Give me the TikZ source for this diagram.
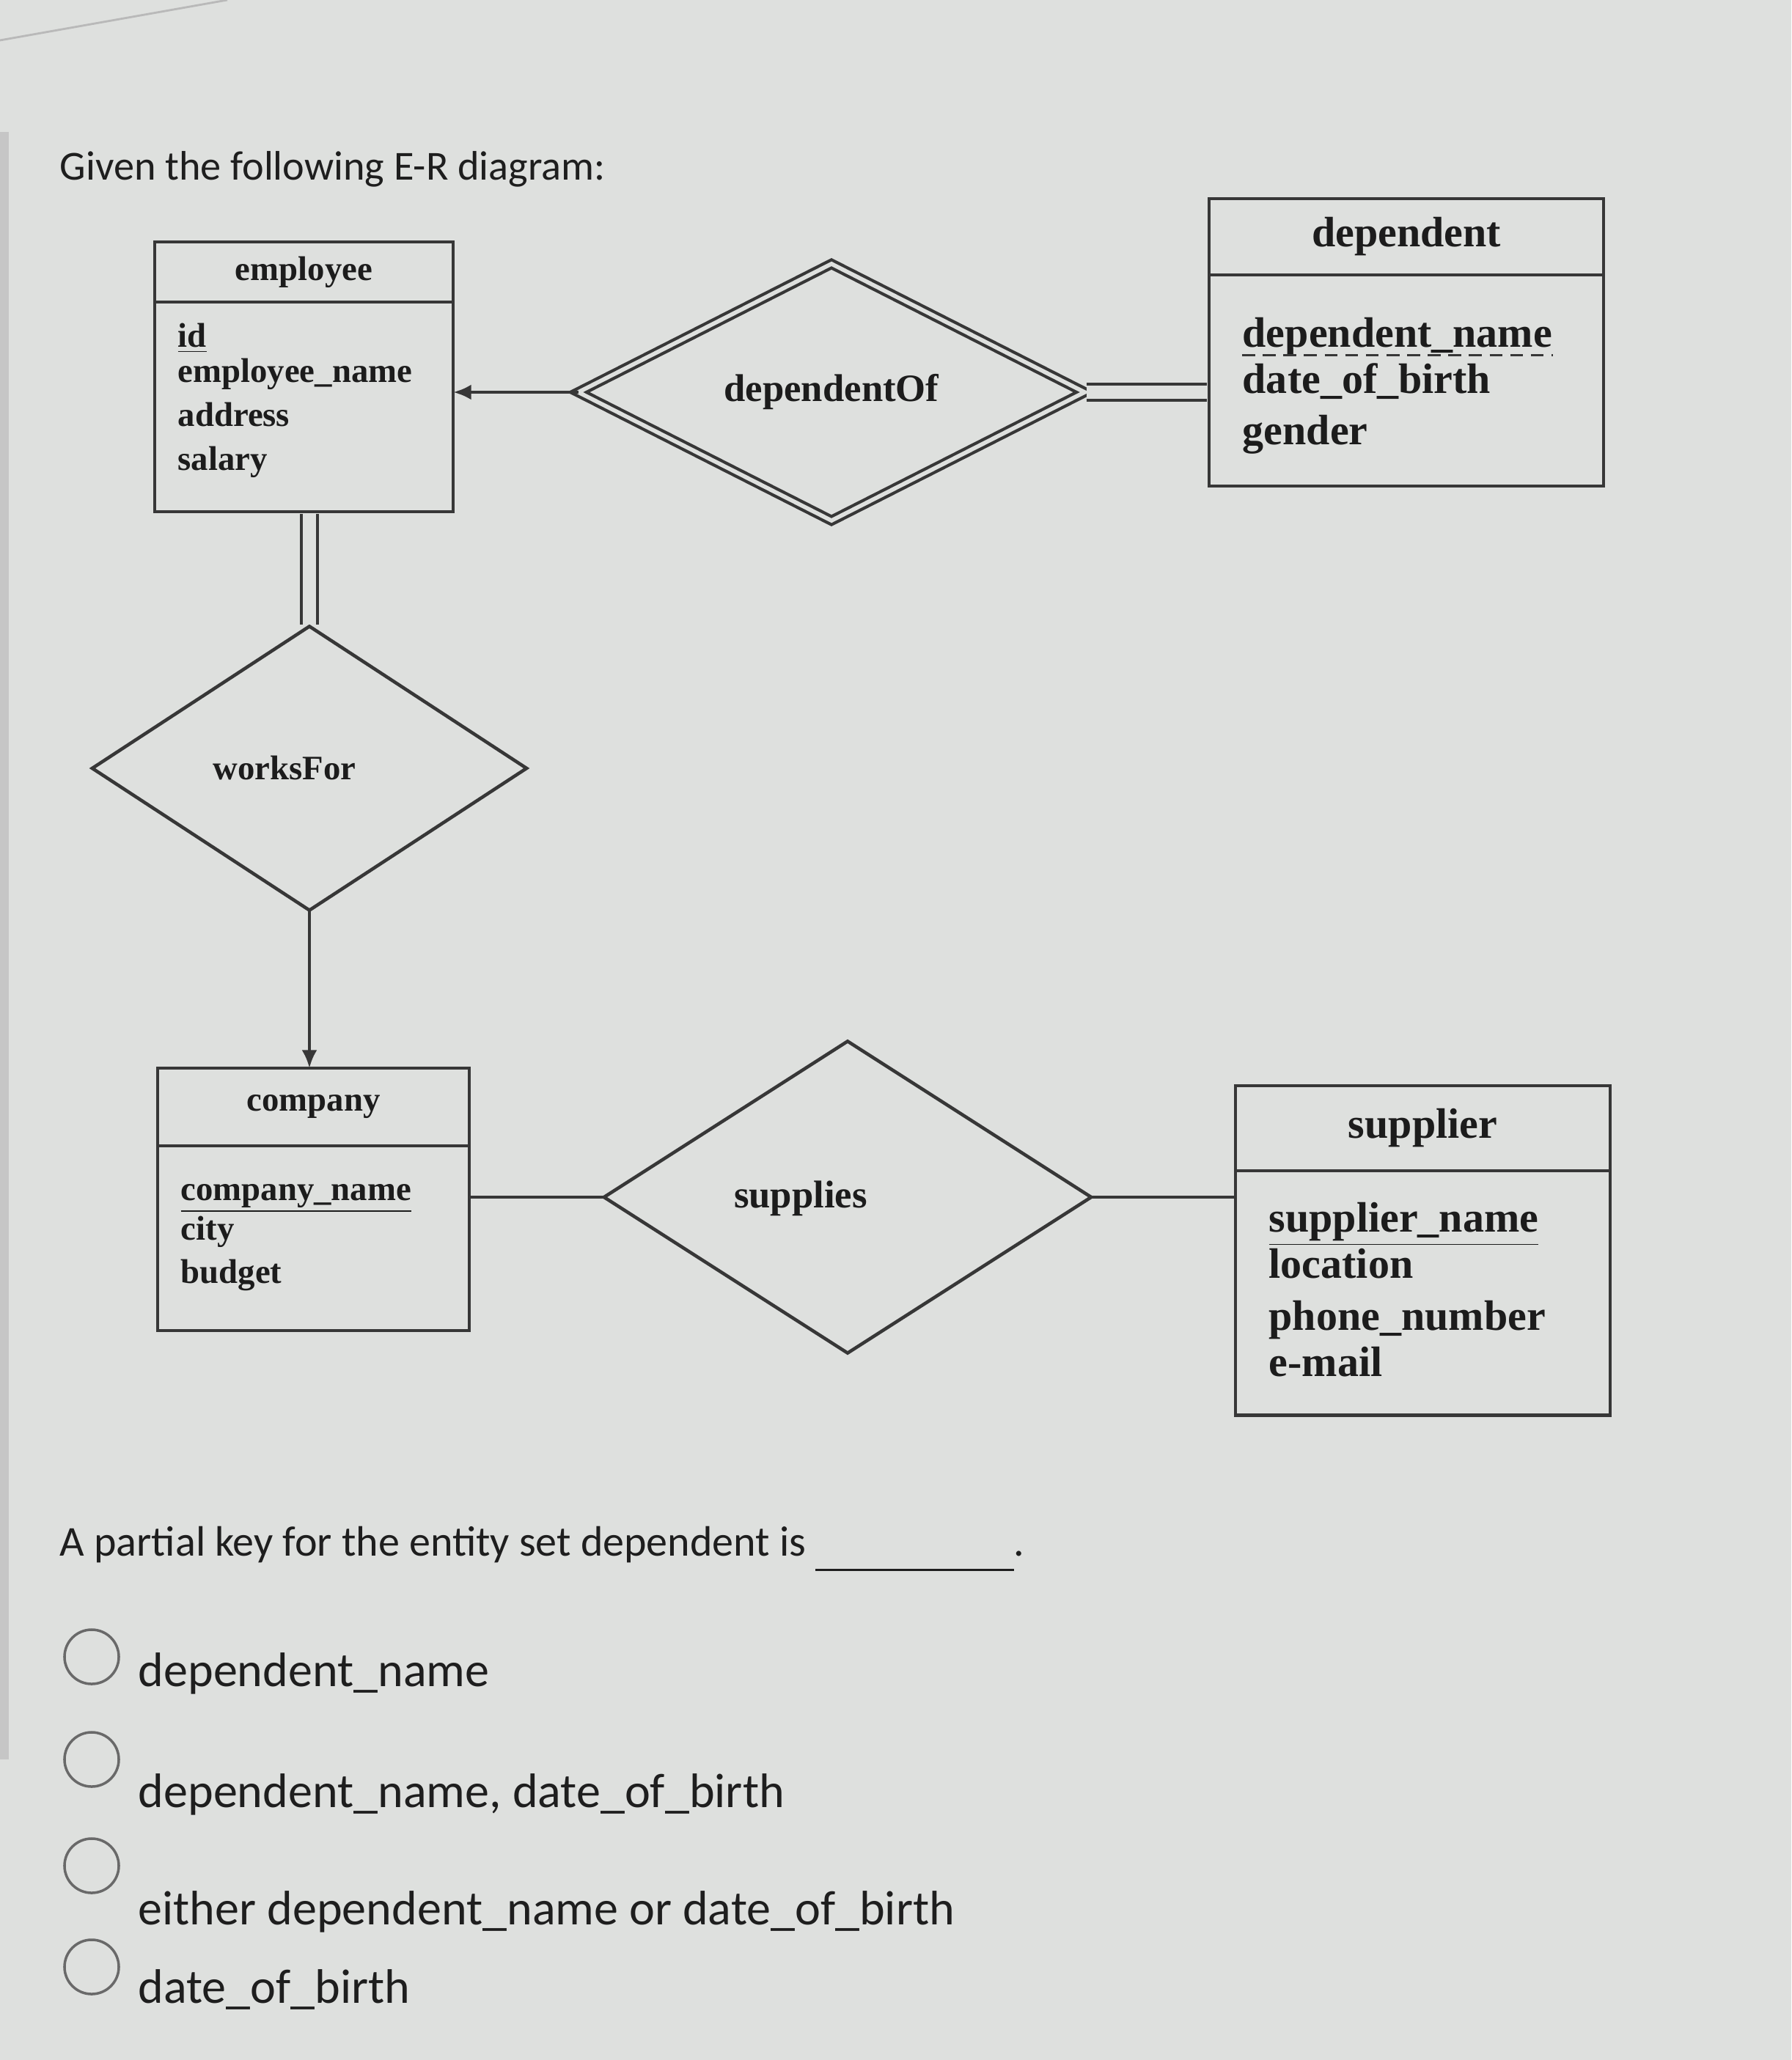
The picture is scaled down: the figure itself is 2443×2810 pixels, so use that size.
\documentclass[tikz,border=0pt]{standalone}
\usepackage{fontspec}
\setmainfont{Liberation Serif}
\newfontfamily\qfont{Carlito}
\usepackage{tikz}
\usetikzlibrary{shapes.geometric, positioning, arrows.meta}
\definecolor{bgpaper}{RGB}{222,224,222}
\definecolor{erline}{RGB}{55,55,55}
\definecolor{ertext}{RGB}{28,28,28}
\definecolor{qtext}{RGB}{30,30,30}
\definecolor{radioline}{RGB}{105,105,105}

\begin{document}
\begin{tikzpicture}[x=0.01cm, y=-0.01cm,
  entbox/.style={draw=erline, line width=1.3pt, inner sep=0pt, outer sep=0pt, text=ertext},
  rel/.style={diamond, draw=erline, line width=1.3pt, inner sep=0pt, outer sep=0pt, text=ertext},
  attr/.style={anchor=base west, inner sep=0pt, text=ertext},
  rellbl/.style={inner sep=0pt, text=ertext},
  link/.style={draw=erline, line width=1.3pt},
  tip/.style={-{Latex[length=7pt,width=6pt]}},
  twolink/.style={draw=erline, line width=1.1pt, double=bgpaper, double distance=5pt, shorten <=0.7pt, shorten >=0.7pt},
  qtxt/.style={anchor=base west, inner sep=0pt, text=qtext},
  radio/.style={circle, draw=radioline, line width=1pt, minimum size=0.74cm, inner sep=0pt},
  fontL/.style={font=\fontsize{13.3}{16}\selectfont\bfseries},
  fontM/.style={font=\fontsize{15}{18}\selectfont\bfseries},
  fontR/.style={font=\fontsize{16.5}{20}\selectfont\bfseries},
  fontQ/.style={font=\qfont\fontsize{18.8}{22}\selectfont}]
  \fill[bgpaper] (0,0) rectangle (2443,2810);
  \useasboundingbox (0,0) rectangle (2443,2810);
  \fill[gray!45] (0,180) rectangle (12,2400);
  \draw[gray!55, line width=0.8pt] (0,55) -- (310,0);

  \node[qtxt, font=\qfont\fontsize{16}{19}\selectfont] (title) at (81,246) {Given the following E-R diagram:};

  \node[entbox, fontL, minimum width=4.07cm, minimum height=0.82cm] (emphead) at (414.5,371) {employee};
  \node[entbox, minimum width=4.07cm, minimum height=2.86cm, below=0pt of emphead] (empbody) {};
  \node[attr, fontL] (empid) at (242,474) {\underline{id}};
  \node[attr, fontL] (empname) at (242,522) {employee\_name};
  \node[attr, fontL] (empaddr) at (242,582) {address};
  \node[attr, fontL] (empsal) at (242,642) {salary};

  \node[rel, fontM, double=bgpaper, double distance=1.6pt, line width=1.2pt, minimum width=6.9cm, minimum height=3.5cm] (depof) at (1134,535) {dependentOf};

  \node[entbox, fontR, minimum width=5.38cm, minimum height=1.04cm] (dephead) at (1918,323) {dependent};
  \node[entbox, minimum width=5.38cm, minimum height=2.88cm, below=0pt of dephead] (depbody) {};
  \node[attr, fontR] (depname) at (1694,474) {dependent\_name};
  \node[attr, fontR] (depdob) at (1694,537) {date\_of\_birth};
  \node[attr, fontR] (depgen) at (1694,607) {gender};
  \draw[erline, line width=0.9pt, dash pattern=on 5pt off 3pt] ([yshift=-3pt]depname.base west) -- ([yshift=-3pt]depname.base east);

  \node[rel, minimum width=5.92cm, minimum height=3.87cm] (wf) at (422,1048) {};
  \node[rellbl, fontL] (wflbl) at (388,1047) {worksFor};

  \node[entbox, fontL, minimum width=4.25cm, minimum height=1.06cm] (comphead) at (427.5,1510) {company};
  \node[entbox, minimum width=4.25cm, minimum height=2.52cm, below=0pt of comphead] (compbody) {};
  \node[attr, fontL] (compname) at (246,1637) {\underline{company\_name}};
  \node[attr, fontL] (compcity) at (246,1691) {city};
  \node[attr, fontL] (compbud) at (246,1750) {budget};

  \node[rel, minimum width=6.64cm, minimum height=4.25cm] (supp) at (1156,1633) {};
  \node[rellbl, fontM] (supplbl) at (1092,1635) {supplies};

  \node[entbox, fontR, minimum width=5.11cm, minimum height=1.16cm] (supphead) at (1940.5,1539) {supplier};
  \node[entbox, minimum width=5.11cm, minimum height=3.33cm, below=0pt of supphead] (suppbody) {};
  \node[attr, fontR] (suppname) at (1730,1680) {\underline{supplier\_name}};
  \node[attr, fontR] (supploc) at (1730,1743) {location};
  \node[attr, fontR] (suppphone) at (1730,1814) {phone\_number};
  \node[attr, fontR] (suppmail) at (1730,1877) {e-mail};

  \draw[link, tip] (depof.west) -- (depof.west -| empbody.east);
  \draw[twolink] (depof.east) -- (depof.east -| depbody.west);
  \draw[twolink] (wf.north) -- (wf.north |- empbody.south);
  \draw[link, tip] (wf.south) -- (wf.south |- comphead.north);
  \draw[link] (supp.west) -- (supp.west -| compbody.east);
  \draw[link] (supp.east) -- (supp.east -| suppbody.west);

  \node[qtxt, font=\qfont\fontsize{16.5}{20}\selectfont] (question) at (81,2122) {A partial key for the entity set dependent is \rule[-6pt]{77pt}{0.9pt}.};

  \node[radio] (radio1) at (125,2260) {};
  \node[radio] (radio2) at (125,2400) {};
  \node[radio] (radio3) at (125,2545) {};
  \node[radio] (radio4) at (125,2683) {};
  \node[qtxt, fontQ] (opt1) at (188,2300) {dependent\_name};
  \node[qtxt, fontQ] (opt2) at (188,2465) {dependent\_name, date\_of\_birth};
  \node[qtxt, fontQ] (opt3) at (188,2625) {either dependent\_name or date\_of\_birth};
  \node[qtxt, fontQ] (opt4) at (188,2732) {date\_of\_birth};
\end{tikzpicture}
\end{document}
